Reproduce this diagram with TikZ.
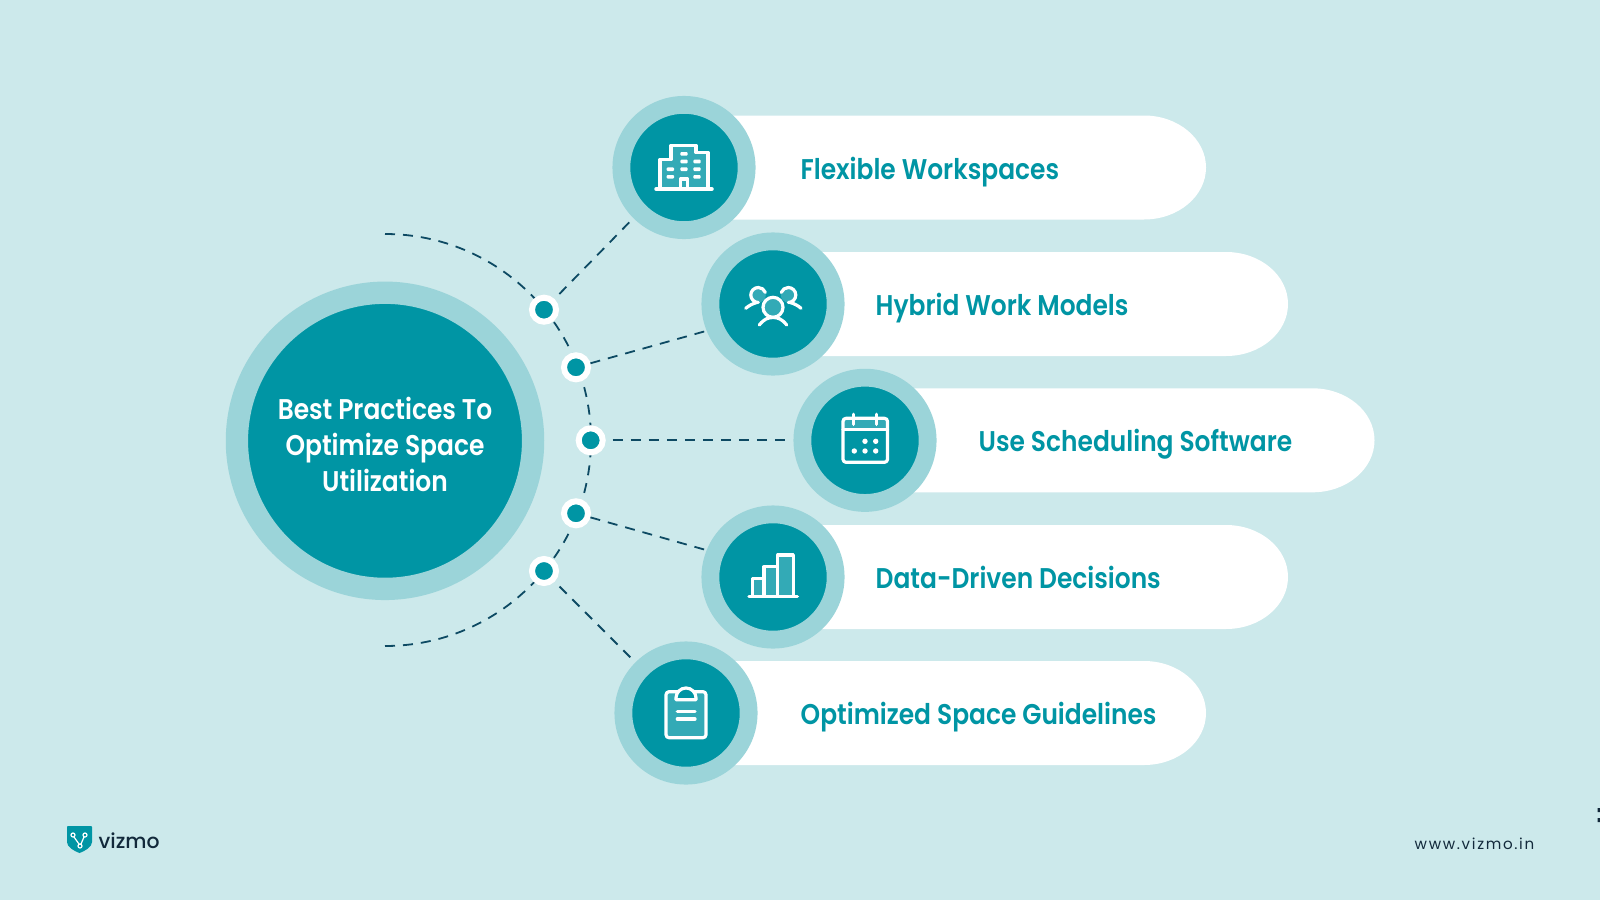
\documentclass[tikz,border=0pt]{standalone}
\usepackage{fontspec}
\setmainfont{Poppins}
\newfontfamily\medfont{Poppins Medium}
\newfontfamily\headfont[FakeStretch=0.875]{Poppins SemiBold}
\newfontfamily\wwwfont[LetterSpace=11]{Poppins}
\definecolor{bgcol}{HTML}{CCE9EB}
\definecolor{ringcol}{HTML}{9BD4D9}
\definecolor{tealcol}{HTML}{0095A4}
\definecolor{softcol}{HTML}{33AAB6}
\definecolor{dashcol}{HTML}{0D4A63}
\definecolor{inkcol}{HTML}{12293B}
\newcommand{\pillbar}[3]{\fill[white] (#1,#2-52) -- (#3-62,#2-52) arc[start angle=-90,end angle=90,x radius=62,y radius=52] -- (#1,#2+52) -- cycle;}
\tikzset{
  ringnode/.style={circle,fill=tealcol,draw=ringcol,line width=.178cm,minimum size=1.252cm,inner sep=0pt},
  dotnode/.style={circle,fill=tealcol,draw=white,line width=.06cm,minimum size=.24cm,inner sep=0pt,outer sep=.1cm},
  linkline/.style={draw=dashcol,line width=.018cm,dash pattern=on .1cm off .08cm},
  rowtext/.style={anchor=west,inner sep=0pt,text=tealcol,font=\headfont\fontsize{8.1}{10}\selectfont},
  ink/.style={draw=white,line width=.032cm,line cap=round,line join=round},
  soft/.style={ink,fill=softcol},
  bldg/.pic={
    \draw[soft] (-24,21) -- (-24,-8) -- (-13,-8) -- (-13,-22) -- (12,-22) -- (12,-15) -- (24,-15) -- (24,21);
    \draw[ink,line width=.035cm] (-28,21.5) -- (28,21.5);
    \draw[ink] (-3.5,21) -- (-3.5,11.5) -- (3.5,11.5) -- (3.5,21);
    \foreach \wx/\wy in {0/-13.7,0/-6,13/-6,-13.7/1.7,0/1.7,13/1.7,-13.7/9.3,13/9.3}
      \fill[white,rounded corners=.01cm] (\wx-3.7,\wy-1.8) rectangle (\wx+3.7,\wy+1.8);
  },
  crew/.pic={
    \fill[softcol] (-14.7,-9) circle[radius=7.5];
    \fill[softcol] (15.3,-9) circle[radius=7.5];
    \draw[ink] (-14.7,-1.5) arc[start angle=90,end angle=340,radius=7.5];
    \draw[ink] (15.3,-1.5) arc[start angle=90,end angle=-160,radius=7.5];
    \draw[ink] (-27.3,4.3) .. controls (-24,1.5) and (-20,-.5) .. (-16.3,-1.5);
    \draw[ink] (28,4.3) .. controls (25,1.5) and (21,-.5) .. (17,-1.5);
    \draw[soft] (0,3.3) circle[radius=10];
    \draw[ink] (-13.7,21) .. controls (-9,15) and (-5,13.5) .. (0,13.5) .. controls (5,13.5) and (9,15) .. (13.7,21);
  },
  cal/.pic={
    \fill[softcol] (-22,-22) rectangle (22,-11);
    \draw[ink,rounded corners=.03cm] (-22,-22) rectangle (22.5,22);
    \draw[ink] (-22,-11) -- (22.5,-11);
    \draw[ink,line width=.035cm] (-11.7,-26) -- (-11.7,-16);
    \draw[ink,line width=.035cm] (11.3,-26) -- (11.3,-16);
    \foreach \px/\py in {0/1,10.7/1,-10.7/10.7,0/10.7,10.7/10.7}
      \fill[white] (\px,\py) circle[radius=2.7];
  },
  bars/.pic={
    \draw[soft] (-20.3,19) -- (-20.3,1.3) -- (-9,1.3) -- (-9,19);
    \draw[soft] (-9,19) -- (-9,-10.3) -- (4.7,-10.3) -- (4.7,19);
    \draw[soft] (4.7,19) -- (4.7,-22) -- (20.3,-22) -- (20.3,19);
    \draw[ink,line width=.035cm] (-24,19.3) -- (24.3,19.3);
  },
  clipbrd/.pic={
    \draw[soft,rounded corners=.03cm] (-20,-21.3) rectangle (20,24.7);
    \fill[tealcol] (-10,-13.3) -- (-10,-15) arc[start angle=180,end angle=360,radius=10] -- (10,-13.3) -- cycle;
    \draw[ink] (-10,-13.3) -- (-10,-15) arc[start angle=180,end angle=360,radius=10] -- (10,-13.3) -- cycle;
    \draw[ink] (-8.7,-1.3) -- (9,-1.3);
    \draw[ink] (-8.7,6) -- (9,6);
  }
}
\begin{document}
\begin{tikzpicture}[x=.01cm,y=-.01cm]
  \fill[bgcol] (0,0) rectangle (1600,900);
  \useasboundingbox (0,0) rectangle (1600,900);
  %arc behind the dots
  \draw[linkline] (385,234) arc[start angle=-90,end angle=0,radius=206];
  \draw[linkline] (385,646) arc[start angle=90,end angle=0,radius=206];
  %bars
  \pillbar{684}{167.5}{1206}
  \pillbar{773}{304}{1288}
  \pillbar{865}{440.3}{1374.5}
  \pillbar{773}{577}{1288}
  \pillbar{686}{713}{1206}
  %centre
  \node[ringnode,line width=.223cm,minimum size=2.96cm] (main) at (385,440.8) {};
  \node[align=center,inner sep=0pt,text=white,font=\headfont\fontsize{8.1}{10.24}\selectfont] (maintext) at (385,444) {Best Practices To\\Optimize Space\\Utilization};
  %rings
  \node[ringnode] (r1) at (684,167.5) {};
  \node[ringnode] (r2) at (773,304) {};
  \node[ringnode] (r3) at (865,440.3) {};
  \node[ringnode] (r4) at (773,577) {};
  \node[ringnode] (r5) at (686,713) {};
  %dots
  \node[dotnode] (d1) at (544,309.7) {};
  \node[dotnode] (d2) at (576,367.3) {};
  \node[dotnode] (d3) at (590.7,440.3) {};
  \node[dotnode] (d4) at (576,513.3) {};
  \node[dotnode] (d5) at (544,571) {};
  %links
  \draw[linkline] (d1) -- (r1.225);
  \draw[linkline,shorten <=-.07cm] (d2) -- (r2.202);
  \draw[linkline,shorten >=.05cm] (d3) -- (r3);
  \draw[linkline,shorten <=-.07cm] (d4) -- (r4.158);
  \draw[linkline] (d5) -- (r5.135);
  %icons
  \pic at (r1) {bldg};
  \pic at (r2) {crew};
  \pic at (r3) {cal};
  \pic at (r4) {bars};
  \pic at (r5) {clipbrd};
  %labels
  \node[rowtext] (t1) at (800,172) {Flexible Workspaces};
  \node[rowtext] (t2) at (875,308) {Hybrid Work Models};
  \node[rowtext] (t3) at (978,444) {Use Scheduling Software};
  \node[rowtext] (t4) at (875,577) {Data-Driven Decisions};
  \node[rowtext] (t5) at (800,717) {Optimized Space Guidelines};
  %logo
  \fill[tealcol] (67,827) .. controls (67,826) and (68,826) .. (69,826) -- (90,826) .. controls (91,826) and (92,826) .. (92,827) -- (92,842) .. controls (92,847) and (85,851) .. (79.5,853) .. controls (74,851) and (67,847) .. (67,842) -- cycle;
  \draw[white,line width=.012cm] (73,835) circle[radius=2] (85,835) circle[radius=2] (80,846) circle[radius=2] (74,837) -- (79,844) (84,837) -- (81,844);
  \node[anchor=west,inner sep=0pt,text=inkcol,font=\medfont\fontsize{5.8}{8}\selectfont] (logo) at (98,841) {vizmo};
  \node[anchor=west,inner sep=0pt,text=inkcol,font=\wwwfont\fontsize{4.3}{6}\selectfont] (site) at (1414,844) {www.vizmo.in};
  %clipped mark on the edge
  \fill[inkcol] (1597.5,808) rectangle (1600,812) (1597.5,818) rectangle (1600,822);
\end{tikzpicture}
\end{document}
